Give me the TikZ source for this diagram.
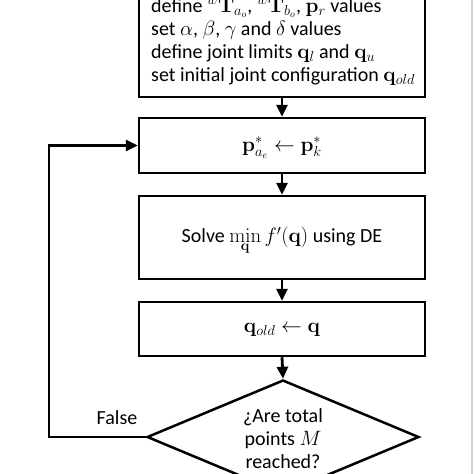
\documentclass[tikz,border=0pt]{standalone}
\usepackage[no-math]{fontspec}
\setmainfont{Carlito}
\usetikzlibrary{shapes.geometric,arrows.meta}
\begin{document}
\begin{tikzpicture}[x=1pt,y=-1pt,
  font=\fontsize{20}{23}\selectfont,
  box/.style={draw, line width=2.5pt, minimum width=286pt, inner sep=0pt, line join=miter},
  txt/.style={inner sep=0pt},
  flow/.style={line width=2.8pt, line join=miter, -{Triangle[length=12pt,width=11pt]}},
  ]
\useasboundingbox (0,0) rectangle (474,474);
\begin{scope}
\clip (0,0) rectangle (474,474);
\fill[white] (0,0) rectangle (474,474);
\draw[gray!35, line width=2pt] (472,0) -- (472,474);
% boxes
\node[box, minimum height=114pt] (top) at (282,40) {};
\node[box, minimum height=55pt] (b2) at (282,145.5) {};
\node[box, minimum height=83pt] (b3) at (282,237.5) {};
\node[box, minimum height=54pt] (b4) at (282,329) {};
\node[draw, diamond, line width=2.5pt, minimum width=272pt, minimum height=114pt, inner sep=0pt, aspect=2.4] (dia) at (283,437) {};
% texts
\node[txt, anchor=base west] (t1) at (151,12) {define ${}^{w}\mathbf{T}_{a_o}$, ${}^{w}\mathbf{T}_{b_o}$, $\mathbf{p}_r$ values};
\node[txt, anchor=base west] (t2) at (151,35) {set $\alpha$, $\beta$, $\gamma$ and $\delta$ values};
\node[txt, anchor=base west] (t3) at (151,58) {define joint limits $\mathbf{q}_l$ and $\mathbf{q}_u$};
\node[txt, anchor=base west] (t4) at (151,81) {set initial joint configuration $\mathbf{q}_{old}$};
\node[txt] (t5) at (282,148) {$\mathbf{p}^*_{a_e} \leftarrow \mathbf{p}^*_k$};
\node[txt] (t6) at (282,241) {Solve $\min\limits_{\mathbf{q}} f'(\mathbf{q})$ using DE};
\node[txt] (t7) at (282,330) {$\mathbf{q}_{old} \leftarrow \mathbf{q}$};
\node[txt, align=center] (t8) at (283,439) {¿Are total\\points $M$\\reached?};
\node[txt] (fl) at (117,418) {False};
% connectors
\draw[flow] (top.south) -- (b2.north);
\draw[flow] (b2.south) -- (b3.north);
\draw[flow] (b3.south) -- (b4.north);
\draw[flow] (b4.south) -- (dia.north);
\coordinate (lp) at (49,437);
\draw[flow] (dia.west) -- (lp) |- (b2.west);
\end{scope}
\end{tikzpicture}
\end{document}
